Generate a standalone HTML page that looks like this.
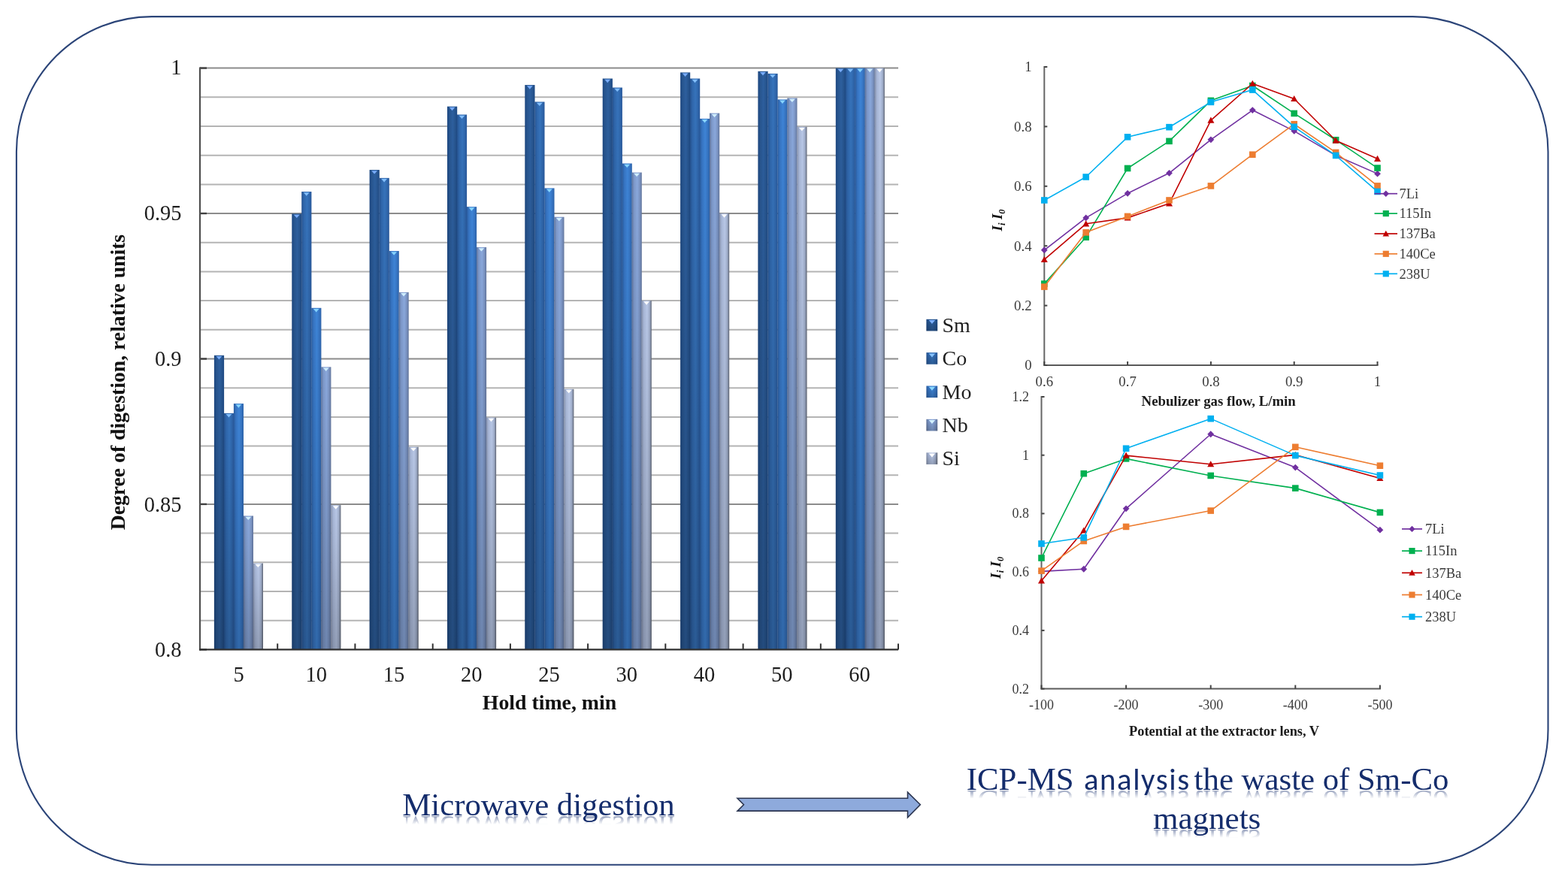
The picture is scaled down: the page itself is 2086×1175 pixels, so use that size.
<!DOCTYPE html>
<html><head><meta charset="utf-8"><title>Microwave digestion and ICP-MS analysis</title>
<style>
html,body{margin:0;padding:0;background:#fff;}
body{width:2086px;height:1175px;overflow:hidden;}
svg{display:block;}
</style></head><body>
<svg width="2086" height="1175" viewBox="0 0 2086 1175">
<defs>
<linearGradient id="gSm" x1="0" x2="1" y1="0" y2="0"><stop offset="0" stop-color="#1c4680"/><stop offset="0.22" stop-color="#27558f"/><stop offset="0.55" stop-color="#2d5f9e"/><stop offset="0.8" stop-color="#27558f"/><stop offset="1" stop-color="#1d4882"/></linearGradient><linearGradient id="gCo" x1="0" x2="1" y1="0" y2="0"><stop offset="0" stop-color="#25528f"/><stop offset="0.22" stop-color="#2f66ab"/><stop offset="0.55" stop-color="#3673bb"/><stop offset="0.8" stop-color="#2f66ab"/><stop offset="1" stop-color="#28579a"/></linearGradient><linearGradient id="gMo" x1="0" x2="1" y1="0" y2="0"><stop offset="0" stop-color="#2a5c9e"/><stop offset="0.22" stop-color="#3674c2"/><stop offset="0.55" stop-color="#3e84d6"/><stop offset="0.8" stop-color="#3674c2"/><stop offset="1" stop-color="#2c62a8"/></linearGradient><linearGradient id="gNb" x1="0" x2="1" y1="0" y2="0"><stop offset="0" stop-color="#5f739b"/><stop offset="0.22" stop-color="#7d98c9"/><stop offset="0.55" stop-color="#8aa8dc"/><stop offset="0.8" stop-color="#7a93c2"/><stop offset="1" stop-color="#62759c"/></linearGradient><linearGradient id="gSi" x1="0" x2="1" y1="0" y2="0"><stop offset="0" stop-color="#8490ab"/><stop offset="0.22" stop-color="#a7b6d6"/><stop offset="0.55" stop-color="#b8c7e6"/><stop offset="0.8" stop-color="#a0aecb"/><stop offset="1" stop-color="#5f6676"/></linearGradient><linearGradient id="vsh" x1="0" x2="0" y1="0" y2="1"><stop offset="0" stop-color="#000" stop-opacity="0"/><stop offset="0.25" stop-color="#000" stop-opacity="0.04"/><stop offset="1" stop-color="#000" stop-opacity="0.2"/></linearGradient><linearGradient id="rfl" x1="0" x2="0" y1="0" y2="1"><stop offset="0" stop-color="#fff" stop-opacity="0.55"/><stop offset="0.45" stop-color="#fff" stop-opacity="0.0"/></linearGradient><linearGradient id="rg1" gradientUnits="userSpaceOnUse" x1="0" y1="1085.0" x2="0" y2="1097.0"><stop offset="0" stop-color="#fff" stop-opacity="0.5"/><stop offset="1" stop-color="#fff" stop-opacity="0"/></linearGradient><mask id="rm1" maskUnits="userSpaceOnUse" x="0" y="1085.0" width="2086" height="14.0"><rect x="0" y="1085.0" width="2086" height="14.0" fill="url(#rg1)"/></mask><linearGradient id="rg2" gradientUnits="userSpaceOnUse" x1="0" y1="1050.6" x2="0" y2="1062.6"><stop offset="0" stop-color="#fff" stop-opacity="0.5"/><stop offset="1" stop-color="#fff" stop-opacity="0"/></linearGradient><mask id="rm2" maskUnits="userSpaceOnUse" x="0" y="1050.6" width="2086" height="14.0"><rect x="0" y="1050.6" width="2086" height="14.0" fill="url(#rg2)"/></mask><linearGradient id="rg3" gradientUnits="userSpaceOnUse" x1="0" y1="1102.8" x2="0" y2="1114.8"><stop offset="0" stop-color="#fff" stop-opacity="0.5"/><stop offset="1" stop-color="#fff" stop-opacity="0"/></linearGradient><mask id="rm3" maskUnits="userSpaceOnUse" x="0" y="1102.8" width="2086" height="14.0"><rect x="0" y="1102.8" width="2086" height="14.0" fill="url(#rg3)"/></mask>
<mask id="rm" maskUnits="userSpaceOnUse" x="0" y="0" width="2086" height="1175"><rect x="0" y="0" width="2086" height="1175" fill="#fff"/></mask>
</defs>
<rect x="0" y="0" width="2086" height="1175" fill="#fff"/>
<rect x="21.9" y="22.1" width="2037.6" height="1128.7" rx="180" ry="180" fill="none" stroke="#2b4478" stroke-width="2.1"/>
<line x1="266.0" y1="825.7" x2="1195.0" y2="825.7" stroke="#b4b4b4" stroke-width="2"/>
<line x1="266.0" y1="787.0" x2="1195.0" y2="787.0" stroke="#b4b4b4" stroke-width="2"/>
<line x1="266.0" y1="748.3" x2="1195.0" y2="748.3" stroke="#b4b4b4" stroke-width="2"/>
<line x1="266.0" y1="709.6" x2="1195.0" y2="709.6" stroke="#b4b4b4" stroke-width="2"/>
<line x1="266.0" y1="670.9" x2="1195.0" y2="670.9" stroke="#8c8c8c" stroke-width="2"/>
<line x1="266.0" y1="632.3" x2="1195.0" y2="632.3" stroke="#b4b4b4" stroke-width="2"/>
<line x1="266.0" y1="593.6" x2="1195.0" y2="593.6" stroke="#b4b4b4" stroke-width="2"/>
<line x1="266.0" y1="554.9" x2="1195.0" y2="554.9" stroke="#b4b4b4" stroke-width="2"/>
<line x1="266.0" y1="516.2" x2="1195.0" y2="516.2" stroke="#b4b4b4" stroke-width="2"/>
<line x1="266.0" y1="477.5" x2="1195.0" y2="477.5" stroke="#8c8c8c" stroke-width="2"/>
<line x1="266.0" y1="438.8" x2="1195.0" y2="438.8" stroke="#b4b4b4" stroke-width="2"/>
<line x1="266.0" y1="400.1" x2="1195.0" y2="400.1" stroke="#b4b4b4" stroke-width="2"/>
<line x1="266.0" y1="361.4" x2="1195.0" y2="361.4" stroke="#b4b4b4" stroke-width="2"/>
<line x1="266.0" y1="322.7" x2="1195.0" y2="322.7" stroke="#b4b4b4" stroke-width="2"/>
<line x1="266.0" y1="284.0" x2="1195.0" y2="284.0" stroke="#8c8c8c" stroke-width="2"/>
<line x1="266.0" y1="245.4" x2="1195.0" y2="245.4" stroke="#b4b4b4" stroke-width="2"/>
<line x1="266.0" y1="206.7" x2="1195.0" y2="206.7" stroke="#b4b4b4" stroke-width="2"/>
<line x1="266.0" y1="168.0" x2="1195.0" y2="168.0" stroke="#b4b4b4" stroke-width="2"/>
<line x1="266.0" y1="129.3" x2="1195.0" y2="129.3" stroke="#b4b4b4" stroke-width="2"/>
<line x1="266.0" y1="90.6" x2="1195.0" y2="90.6" stroke="#8c8c8c" stroke-width="2"/>
<line x1="266.0" y1="864.4" x2="275.0" y2="864.4" stroke="#404040" stroke-width="2.4"/>
<line x1="266.0" y1="670.9" x2="275.0" y2="670.9" stroke="#404040" stroke-width="2.4"/>
<line x1="266.0" y1="477.5" x2="275.0" y2="477.5" stroke="#404040" stroke-width="2.4"/>
<line x1="266.0" y1="284.0" x2="275.0" y2="284.0" stroke="#404040" stroke-width="2.4"/>
<line x1="266.0" y1="90.6" x2="275.0" y2="90.6" stroke="#404040" stroke-width="2.4"/>
<rect x="284.9" y="472.86" width="13.2" height="391.54" fill="url(#gSm)"/>
<rect x="284.9" y="472.86" width="13.2" height="391.54" fill="url(#vsh)"/>
<path d="M287.50,474.06 L295.30,474.06 Q292.60,477.06 291.40,478.46 Q290.20,477.06 287.50,474.06 Z" fill="#7cb0ff" opacity="0.95"/>
<rect x="297.9" y="549.85" width="13.2" height="314.55" fill="url(#gCo)"/>
<rect x="297.9" y="549.85" width="13.2" height="314.55" fill="url(#vsh)"/>
<path d="M300.50,551.05 L308.30,551.05 Q305.60,554.05 304.40,555.45 Q303.20,554.05 300.50,551.05 Z" fill="#86c2ff" opacity="0.95"/>
<rect x="310.9" y="537.08" width="13.1" height="327.32" fill="url(#gMo)"/>
<rect x="310.9" y="537.08" width="13.1" height="327.32" fill="url(#vsh)"/>
<path d="M313.45,538.28 L321.25,538.28 Q318.55,541.28 317.35,542.68 Q316.15,541.28 313.45,538.28 Z" fill="#8ad8ff" opacity="0.95"/>
<rect x="323.8" y="686.43" width="13.2" height="177.97" fill="url(#gNb)"/>
<rect x="323.8" y="686.43" width="13.2" height="177.97" fill="url(#vsh)"/>
<path d="M326.40,687.63 L334.20,687.63 Q331.50,690.63 330.30,692.03 Q329.10,690.63 326.40,687.63 Z" fill="#d4f2ff" opacity="0.95"/>
<rect x="336.8" y="749.49" width="13.2" height="114.91" fill="url(#gSi)"/>
<rect x="336.8" y="749.49" width="13.2" height="114.91" fill="url(#vsh)"/>
<path d="M339.40,750.69 L347.20,750.69 Q344.50,753.69 343.30,755.09 Q342.10,753.69 339.40,750.69 Z" fill="#ffffff" opacity="0.95"/>
<rect x="388.3" y="284.44" width="13.1" height="579.96" fill="url(#gSm)"/>
<rect x="388.3" y="284.44" width="13.1" height="579.96" fill="url(#vsh)"/>
<path d="M390.85,285.64 L398.65,285.64 Q395.95,288.64 394.75,290.04 Q393.55,288.64 390.85,285.64 Z" fill="#7cb0ff" opacity="0.95"/>
<rect x="401.2" y="255.03" width="13.2" height="609.37" fill="url(#gCo)"/>
<rect x="401.2" y="255.03" width="13.2" height="609.37" fill="url(#vsh)"/>
<path d="M403.80,256.23 L411.60,256.23 Q408.90,259.23 407.70,260.63 Q406.50,259.23 403.80,256.23 Z" fill="#86c2ff" opacity="0.95"/>
<rect x="414.2" y="409.79" width="13.2" height="454.61" fill="url(#gMo)"/>
<rect x="414.2" y="409.79" width="13.2" height="454.61" fill="url(#vsh)"/>
<path d="M416.80,410.99 L424.60,410.99 Q421.90,413.99 420.70,415.39 Q419.50,413.99 416.80,410.99 Z" fill="#8ad8ff" opacity="0.95"/>
<rect x="427.2" y="488.33" width="13.2" height="376.07" fill="url(#gNb)"/>
<rect x="427.2" y="488.33" width="13.2" height="376.07" fill="url(#vsh)"/>
<path d="M429.80,489.53 L437.60,489.53 Q434.90,492.53 433.70,493.93 Q432.50,492.53 429.80,489.53 Z" fill="#d4f2ff" opacity="0.95"/>
<rect x="440.2" y="672.11" width="13.2" height="192.29" fill="url(#gSi)"/>
<rect x="440.2" y="672.11" width="13.2" height="192.29" fill="url(#vsh)"/>
<path d="M442.80,673.31 L450.60,673.31 Q447.90,676.31 446.70,677.71 Q445.50,676.31 442.80,673.31 Z" fill="#ffffff" opacity="0.95"/>
<rect x="491.6" y="226.02" width="13.2" height="638.38" fill="url(#gSm)"/>
<rect x="491.6" y="226.02" width="13.2" height="638.38" fill="url(#vsh)"/>
<path d="M494.20,227.22 L502.00,227.22 Q499.30,230.22 498.10,231.62 Q496.90,230.22 494.20,227.22 Z" fill="#7cb0ff" opacity="0.95"/>
<rect x="504.6" y="236.85" width="13.2" height="627.55" fill="url(#gCo)"/>
<rect x="504.6" y="236.85" width="13.2" height="627.55" fill="url(#vsh)"/>
<path d="M507.20,238.05 L515.00,238.05 Q512.30,241.05 511.10,242.45 Q509.90,241.05 507.20,238.05 Z" fill="#86c2ff" opacity="0.95"/>
<rect x="517.6" y="333.96" width="13.2" height="530.44" fill="url(#gMo)"/>
<rect x="517.6" y="333.96" width="13.2" height="530.44" fill="url(#vsh)"/>
<path d="M520.20,335.16 L528.00,335.16 Q525.30,338.16 524.10,339.56 Q522.90,338.16 520.20,335.16 Z" fill="#8ad8ff" opacity="0.95"/>
<rect x="530.6" y="388.90" width="13.1" height="475.50" fill="url(#gNb)"/>
<rect x="530.6" y="388.90" width="13.1" height="475.50" fill="url(#vsh)"/>
<path d="M533.15,390.10 L540.95,390.10 Q538.25,393.10 537.05,394.50 Q535.85,393.10 533.15,390.10 Z" fill="#d4f2ff" opacity="0.95"/>
<rect x="543.5" y="594.73" width="13.2" height="269.67" fill="url(#gSi)"/>
<rect x="543.5" y="594.73" width="13.2" height="269.67" fill="url(#vsh)"/>
<path d="M546.10,595.93 L553.90,595.93 Q551.20,598.93 550.00,600.33 Q548.80,598.93 546.10,595.93 Z" fill="#ffffff" opacity="0.95"/>
<rect x="595.0" y="141.67" width="13.2" height="722.73" fill="url(#gSm)"/>
<rect x="595.0" y="141.67" width="13.2" height="722.73" fill="url(#vsh)"/>
<path d="M597.60,142.87 L605.40,142.87 Q602.70,145.87 601.50,147.27 Q600.30,145.87 597.60,142.87 Z" fill="#7cb0ff" opacity="0.95"/>
<rect x="608.0" y="152.50" width="13.1" height="711.90" fill="url(#gCo)"/>
<rect x="608.0" y="152.50" width="13.1" height="711.90" fill="url(#vsh)"/>
<path d="M610.55,153.70 L618.35,153.70 Q615.65,156.70 614.45,158.10 Q613.25,156.70 610.55,153.70 Z" fill="#86c2ff" opacity="0.95"/>
<rect x="620.9" y="275.15" width="13.2" height="589.25" fill="url(#gMo)"/>
<rect x="620.9" y="275.15" width="13.2" height="589.25" fill="url(#vsh)"/>
<path d="M623.50,276.35 L631.30,276.35 Q628.60,279.35 627.40,280.75 Q626.20,279.35 623.50,276.35 Z" fill="#8ad8ff" opacity="0.95"/>
<rect x="633.9" y="328.93" width="13.2" height="535.47" fill="url(#gNb)"/>
<rect x="633.9" y="328.93" width="13.2" height="535.47" fill="url(#vsh)"/>
<path d="M636.50,330.13 L644.30,330.13 Q641.60,333.13 640.40,334.53 Q639.20,333.13 636.50,330.13 Z" fill="#d4f2ff" opacity="0.95"/>
<rect x="646.9" y="555.65" width="13.2" height="308.75" fill="url(#gSi)"/>
<rect x="646.9" y="555.65" width="13.2" height="308.75" fill="url(#vsh)"/>
<path d="M649.50,556.85 L657.30,556.85 Q654.60,559.85 653.40,561.25 Q652.20,559.85 649.50,556.85 Z" fill="#ffffff" opacity="0.95"/>
<rect x="698.3" y="113.04" width="13.2" height="751.36" fill="url(#gSm)"/>
<rect x="698.3" y="113.04" width="13.2" height="751.36" fill="url(#vsh)"/>
<path d="M700.90,114.24 L708.70,114.24 Q706.00,117.24 704.80,118.64 Q703.60,117.24 700.90,114.24 Z" fill="#7cb0ff" opacity="0.95"/>
<rect x="711.3" y="135.48" width="13.2" height="728.92" fill="url(#gCo)"/>
<rect x="711.3" y="135.48" width="13.2" height="728.92" fill="url(#vsh)"/>
<path d="M713.90,136.68 L721.70,136.68 Q719.00,139.68 717.80,141.08 Q716.60,139.68 713.90,136.68 Z" fill="#86c2ff" opacity="0.95"/>
<rect x="724.3" y="250.39" width="13.2" height="614.01" fill="url(#gMo)"/>
<rect x="724.3" y="250.39" width="13.2" height="614.01" fill="url(#vsh)"/>
<path d="M726.90,251.59 L734.70,251.59 Q732.00,254.59 730.80,255.99 Q729.60,254.59 726.90,251.59 Z" fill="#8ad8ff" opacity="0.95"/>
<rect x="737.3" y="288.69" width="13.2" height="575.71" fill="url(#gNb)"/>
<rect x="737.3" y="288.69" width="13.2" height="575.71" fill="url(#vsh)"/>
<path d="M739.90,289.89 L747.70,289.89 Q745.00,292.89 743.80,294.29 Q742.60,292.89 739.90,289.89 Z" fill="#d4f2ff" opacity="0.95"/>
<rect x="750.3" y="517.74" width="13.1" height="346.66" fill="url(#gSi)"/>
<rect x="750.3" y="517.74" width="13.1" height="346.66" fill="url(#vsh)"/>
<path d="M752.85,518.94 L760.65,518.94 Q757.95,521.94 756.75,523.34 Q755.55,521.94 752.85,518.94 Z" fill="#ffffff" opacity="0.95"/>
<rect x="801.7" y="104.53" width="13.2" height="759.87" fill="url(#gSm)"/>
<rect x="801.7" y="104.53" width="13.2" height="759.87" fill="url(#vsh)"/>
<path d="M804.30,105.73 L812.10,105.73 Q809.40,108.73 808.20,110.13 Q807.00,108.73 804.30,105.73 Z" fill="#7cb0ff" opacity="0.95"/>
<rect x="814.7" y="116.52" width="13.2" height="747.88" fill="url(#gCo)"/>
<rect x="814.7" y="116.52" width="13.2" height="747.88" fill="url(#vsh)"/>
<path d="M817.30,117.72 L825.10,117.72 Q822.40,120.72 821.20,122.12 Q820.00,120.72 817.30,117.72 Z" fill="#86c2ff" opacity="0.95"/>
<rect x="827.7" y="217.50" width="13.1" height="646.90" fill="url(#gMo)"/>
<rect x="827.7" y="217.50" width="13.1" height="646.90" fill="url(#vsh)"/>
<path d="M830.25,218.70 L838.05,218.70 Q835.35,221.70 834.15,223.10 Q832.95,221.70 830.25,218.70 Z" fill="#8ad8ff" opacity="0.95"/>
<rect x="840.6" y="229.50" width="13.2" height="634.90" fill="url(#gNb)"/>
<rect x="840.6" y="229.50" width="13.2" height="634.90" fill="url(#vsh)"/>
<path d="M843.20,230.70 L851.00,230.70 Q848.30,233.70 847.10,235.10 Q845.90,233.70 843.20,230.70 Z" fill="#d4f2ff" opacity="0.95"/>
<rect x="853.6" y="400.12" width="13.2" height="464.28" fill="url(#gSi)"/>
<rect x="853.6" y="400.12" width="13.2" height="464.28" fill="url(#vsh)"/>
<path d="M856.20,401.32 L864.00,401.32 Q861.30,404.32 860.10,405.72 Q858.90,404.32 856.20,401.32 Z" fill="#ffffff" opacity="0.95"/>
<rect x="905.1" y="96.40" width="13.1" height="768.00" fill="url(#gSm)"/>
<rect x="905.1" y="96.40" width="13.1" height="768.00" fill="url(#vsh)"/>
<path d="M907.65,97.60 L915.45,97.60 Q912.75,100.60 911.55,102.00 Q910.35,100.60 907.65,97.60 Z" fill="#7cb0ff" opacity="0.95"/>
<rect x="918.0" y="104.53" width="13.2" height="759.87" fill="url(#gCo)"/>
<rect x="918.0" y="104.53" width="13.2" height="759.87" fill="url(#vsh)"/>
<path d="M920.60,105.73 L928.40,105.73 Q925.70,108.73 924.50,110.13 Q923.30,108.73 920.60,105.73 Z" fill="#86c2ff" opacity="0.95"/>
<rect x="931.0" y="157.92" width="13.2" height="706.48" fill="url(#gMo)"/>
<rect x="931.0" y="157.92" width="13.2" height="706.48" fill="url(#vsh)"/>
<path d="M933.60,159.12 L941.40,159.12 Q938.70,162.12 937.50,163.52 Q936.30,162.12 933.60,159.12 Z" fill="#8ad8ff" opacity="0.95"/>
<rect x="944.0" y="150.57" width="13.2" height="713.83" fill="url(#gNb)"/>
<rect x="944.0" y="150.57" width="13.2" height="713.83" fill="url(#vsh)"/>
<path d="M946.60,151.77 L954.40,151.77 Q951.70,154.77 950.50,156.17 Q949.30,154.77 946.60,151.77 Z" fill="#d4f2ff" opacity="0.95"/>
<rect x="957.0" y="284.05" width="13.2" height="580.35" fill="url(#gSi)"/>
<rect x="957.0" y="284.05" width="13.2" height="580.35" fill="url(#vsh)"/>
<path d="M959.60,285.25 L967.40,285.25 Q964.70,288.25 963.50,289.65 Q962.30,288.25 959.60,285.25 Z" fill="#ffffff" opacity="0.95"/>
<rect x="1008.4" y="94.86" width="13.2" height="769.54" fill="url(#gSm)"/>
<rect x="1008.4" y="94.86" width="13.2" height="769.54" fill="url(#vsh)"/>
<path d="M1011.00,96.06 L1018.80,96.06 Q1016.10,99.06 1014.90,100.46 Q1013.70,99.06 1011.00,96.06 Z" fill="#7cb0ff" opacity="0.95"/>
<rect x="1021.4" y="97.95" width="13.2" height="766.45" fill="url(#gCo)"/>
<rect x="1021.4" y="97.95" width="13.2" height="766.45" fill="url(#vsh)"/>
<path d="M1024.00,99.15 L1031.80,99.15 Q1029.10,102.15 1027.90,103.55 Q1026.70,102.15 1024.00,99.15 Z" fill="#86c2ff" opacity="0.95"/>
<rect x="1034.4" y="132.39" width="13.2" height="732.01" fill="url(#gMo)"/>
<rect x="1034.4" y="132.39" width="13.2" height="732.01" fill="url(#vsh)"/>
<path d="M1037.00,133.59 L1044.80,133.59 Q1042.10,136.59 1040.90,137.99 Q1039.70,136.59 1037.00,133.59 Z" fill="#8ad8ff" opacity="0.95"/>
<rect x="1047.4" y="130.45" width="13.1" height="733.95" fill="url(#gNb)"/>
<rect x="1047.4" y="130.45" width="13.1" height="733.95" fill="url(#vsh)"/>
<path d="M1049.95,131.65 L1057.75,131.65 Q1055.05,134.65 1053.85,136.05 Q1052.65,134.65 1049.95,131.65 Z" fill="#d4f2ff" opacity="0.95"/>
<rect x="1060.3" y="168.75" width="13.2" height="695.65" fill="url(#gSi)"/>
<rect x="1060.3" y="168.75" width="13.2" height="695.65" fill="url(#vsh)"/>
<path d="M1062.90,169.95 L1070.70,169.95 Q1068.00,172.95 1066.80,174.35 Q1065.60,172.95 1062.90,169.95 Z" fill="#ffffff" opacity="0.95"/>
<rect x="1111.8" y="90.60" width="13.2" height="773.80" fill="url(#gSm)"/>
<rect x="1111.8" y="90.60" width="13.2" height="773.80" fill="url(#vsh)"/>
<path d="M1114.40,91.80 L1122.20,91.80 Q1119.50,94.80 1118.30,96.20 Q1117.10,94.80 1114.40,91.80 Z" fill="#7cb0ff" opacity="0.95"/>
<rect x="1124.8" y="90.60" width="13.1" height="773.80" fill="url(#gCo)"/>
<rect x="1124.8" y="90.60" width="13.1" height="773.80" fill="url(#vsh)"/>
<path d="M1127.35,91.80 L1135.15,91.80 Q1132.45,94.80 1131.25,96.20 Q1130.05,94.80 1127.35,91.80 Z" fill="#86c2ff" opacity="0.95"/>
<rect x="1137.7" y="90.60" width="13.2" height="773.80" fill="url(#gMo)"/>
<rect x="1137.7" y="90.60" width="13.2" height="773.80" fill="url(#vsh)"/>
<path d="M1140.30,91.80 L1148.10,91.80 Q1145.40,94.80 1144.20,96.20 Q1143.00,94.80 1140.30,91.80 Z" fill="#8ad8ff" opacity="0.95"/>
<rect x="1150.7" y="90.60" width="13.2" height="773.80" fill="url(#gNb)"/>
<rect x="1150.7" y="90.60" width="13.2" height="773.80" fill="url(#vsh)"/>
<path d="M1153.30,91.80 L1161.10,91.80 Q1158.40,94.80 1157.20,96.20 Q1156.00,94.80 1153.30,91.80 Z" fill="#d4f2ff" opacity="0.95"/>
<rect x="1163.7" y="90.60" width="13.2" height="773.80" fill="url(#gSi)"/>
<rect x="1163.7" y="90.60" width="13.2" height="773.80" fill="url(#vsh)"/>
<path d="M1166.30,91.80 L1174.10,91.80 Q1171.40,94.80 1170.20,96.20 Q1169.00,94.80 1166.30,91.80 Z" fill="#ffffff" opacity="0.95"/>
<line x1="266.0" y1="89.6" x2="266.0" y2="865.4" stroke="#505050" stroke-width="2.2"/>
<line x1="265.0" y1="864.4" x2="1195.0" y2="864.4" stroke="#303030" stroke-width="2.4"/>
<line x1="369.2" y1="856.4" x2="369.2" y2="864.4" stroke="#303030" stroke-width="2"/>
<line x1="472.4" y1="856.4" x2="472.4" y2="864.4" stroke="#303030" stroke-width="2"/>
<line x1="575.7" y1="856.4" x2="575.7" y2="864.4" stroke="#303030" stroke-width="2"/>
<line x1="678.9" y1="856.4" x2="678.9" y2="864.4" stroke="#303030" stroke-width="2"/>
<line x1="782.1" y1="856.4" x2="782.1" y2="864.4" stroke="#303030" stroke-width="2"/>
<line x1="885.3" y1="856.4" x2="885.3" y2="864.4" stroke="#303030" stroke-width="2"/>
<line x1="988.6" y1="856.4" x2="988.6" y2="864.4" stroke="#303030" stroke-width="2"/>
<line x1="1091.8" y1="856.4" x2="1091.8" y2="864.4" stroke="#303030" stroke-width="2"/>
<line x1="1195.0" y1="856.4" x2="1195.0" y2="864.4" stroke="#303030" stroke-width="2"/>
<text x="241.5" y="874.2" text-anchor="end" font-family="'Liberation Serif', 'Times New Roman', serif" font-size="28.5" fill="#1e1e1e">0.8</text>
<text x="241.5" y="680.8" text-anchor="end" font-family="'Liberation Serif', 'Times New Roman', serif" font-size="28.5" fill="#1e1e1e">0.85</text>
<text x="241.5" y="487.0" text-anchor="end" font-family="'Liberation Serif', 'Times New Roman', serif" font-size="28.5" fill="#1e1e1e">0.9</text>
<text x="241.5" y="292.5" text-anchor="end" font-family="'Liberation Serif', 'Times New Roman', serif" font-size="28.5" fill="#1e1e1e">0.95</text>
<text x="241.5" y="98.6" text-anchor="end" font-family="'Liberation Serif', 'Times New Roman', serif" font-size="28.5" fill="#1e1e1e">1</text>
<text x="317.6" y="906.8" text-anchor="middle" font-family="'Liberation Serif', 'Times New Roman', serif" font-size="28.5" fill="#1e1e1e">5</text>
<text x="420.8" y="906.8" text-anchor="middle" font-family="'Liberation Serif', 'Times New Roman', serif" font-size="28.5" fill="#1e1e1e">10</text>
<text x="524.1" y="906.8" text-anchor="middle" font-family="'Liberation Serif', 'Times New Roman', serif" font-size="28.5" fill="#1e1e1e">15</text>
<text x="627.3" y="906.8" text-anchor="middle" font-family="'Liberation Serif', 'Times New Roman', serif" font-size="28.5" fill="#1e1e1e">20</text>
<text x="730.5" y="906.8" text-anchor="middle" font-family="'Liberation Serif', 'Times New Roman', serif" font-size="28.5" fill="#1e1e1e">25</text>
<text x="833.7" y="906.8" text-anchor="middle" font-family="'Liberation Serif', 'Times New Roman', serif" font-size="28.5" fill="#1e1e1e">30</text>
<text x="936.9" y="906.8" text-anchor="middle" font-family="'Liberation Serif', 'Times New Roman', serif" font-size="28.5" fill="#1e1e1e">40</text>
<text x="1040.2" y="906.8" text-anchor="middle" font-family="'Liberation Serif', 'Times New Roman', serif" font-size="28.5" fill="#1e1e1e">50</text>
<text x="1143.4" y="906.8" text-anchor="middle" font-family="'Liberation Serif', 'Times New Roman', serif" font-size="28.5" fill="#1e1e1e">60</text>
<text x="731" y="944.4" text-anchor="middle" font-family="'Liberation Serif', 'Times New Roman', serif" font-size="27.8" font-weight="bold" fill="#111">Hold time, min</text>
<text transform="translate(166.3,508.6) rotate(-90)" text-anchor="middle" font-family="'Liberation Serif', 'Times New Roman', serif" font-size="27.7" font-weight="bold" fill="#111">Degree of digestion, relative units</text>
<rect x="1232.4" y="424.8" width="14.8" height="15.6" fill="url(#gSm)"/>
<rect x="1232.4" y="424.8" width="14.8" height="15.6" fill="url(#vsh)"/>
<path d="M1235.6,426.1 L1244.2,426.1 Q1241.2,429.3 1239.9,431.1 Q1238.6,429.3 1235.6,426.1 Z" fill="#7cb0ff"/>
<text x="1253.5" y="441.9" font-family="'Liberation Serif', 'Times New Roman', serif" font-size="28" fill="#1e1e1e">Sm</text>
<rect x="1232.4" y="469.1" width="14.8" height="15.6" fill="url(#gCo)"/>
<rect x="1232.4" y="469.1" width="14.8" height="15.6" fill="url(#vsh)"/>
<path d="M1235.6,470.4 L1244.2,470.4 Q1241.2,473.6 1239.9,475.4 Q1238.6,473.6 1235.6,470.4 Z" fill="#86c2ff"/>
<text x="1253.5" y="486.2" font-family="'Liberation Serif', 'Times New Roman', serif" font-size="28" fill="#1e1e1e">Co</text>
<rect x="1232.4" y="513.5" width="14.8" height="15.6" fill="url(#gMo)"/>
<rect x="1232.4" y="513.5" width="14.8" height="15.6" fill="url(#vsh)"/>
<path d="M1235.6,514.8 L1244.2,514.8 Q1241.2,518.0 1239.9,519.8 Q1238.6,518.0 1235.6,514.8 Z" fill="#8ad8ff"/>
<text x="1253.5" y="530.6" font-family="'Liberation Serif', 'Times New Roman', serif" font-size="28" fill="#1e1e1e">Mo</text>
<rect x="1232.4" y="557.8" width="14.8" height="15.6" fill="url(#gNb)"/>
<rect x="1232.4" y="557.8" width="14.8" height="15.6" fill="url(#vsh)"/>
<path d="M1235.6,559.1 L1244.2,559.1 Q1241.2,562.3 1239.9,564.1 Q1238.6,562.3 1235.6,559.1 Z" fill="#d4f2ff"/>
<text x="1253.5" y="574.9" font-family="'Liberation Serif', 'Times New Roman', serif" font-size="28" fill="#1e1e1e">Nb</text>
<rect x="1232.4" y="602.3" width="14.8" height="15.6" fill="url(#gSi)"/>
<rect x="1232.4" y="602.3" width="14.8" height="15.6" fill="url(#vsh)"/>
<path d="M1235.6,603.6 L1244.2,603.6 Q1241.2,606.8 1239.9,608.6 Q1238.6,606.8 1235.6,603.6 Z" fill="#ffffff"/>
<text x="1253.5" y="619.4" font-family="'Liberation Serif', 'Times New Roman', serif" font-size="28" fill="#1e1e1e">Si</text>
<line x1="1389.3" y1="88.0" x2="1389.3" y2="487.0" stroke="#666" stroke-width="2"/>
<line x1="1388.3" y1="486.0" x2="1833.5" y2="486.0" stroke="#5a5a5a" stroke-width="2"/>
<line x1="1389.3" y1="486.0" x2="1393.3" y2="486.0" stroke="#444" stroke-width="2"/>
<line x1="1389.3" y1="406.6" x2="1393.3" y2="406.6" stroke="#444" stroke-width="2"/>
<line x1="1389.3" y1="327.2" x2="1393.3" y2="327.2" stroke="#444" stroke-width="2"/>
<line x1="1389.3" y1="247.8" x2="1393.3" y2="247.8" stroke="#444" stroke-width="2"/>
<line x1="1389.3" y1="168.4" x2="1393.3" y2="168.4" stroke="#444" stroke-width="2"/>
<line x1="1389.3" y1="89.0" x2="1393.3" y2="89.0" stroke="#444" stroke-width="2"/>
<line x1="1389.3" y1="481.0" x2="1389.3" y2="486.0" stroke="#444" stroke-width="2"/>
<line x1="1500.1" y1="481.0" x2="1500.1" y2="486.0" stroke="#444" stroke-width="2"/>
<line x1="1610.9" y1="481.0" x2="1610.9" y2="486.0" stroke="#444" stroke-width="2"/>
<line x1="1721.7" y1="481.0" x2="1721.7" y2="486.0" stroke="#444" stroke-width="2"/>
<line x1="1832.5" y1="481.0" x2="1832.5" y2="486.0" stroke="#444" stroke-width="2"/>
<polyline points="1389.30,332.76 1444.70,289.88 1500.10,257.33 1555.50,230.33 1610.90,185.87 1666.30,146.56 1721.70,174.35 1777.10,206.91 1832.50,231.13" fill="none" stroke="#7030a0" stroke-width="1.6" stroke-linejoin="round"/>
<path d="M1389.30,328.36 L1393.70,332.76 L1389.30,337.16 L1384.90,332.76 Z" fill="#7030a0"/>
<path d="M1444.70,285.48 L1449.10,289.88 L1444.70,294.28 L1440.30,289.88 Z" fill="#7030a0"/>
<path d="M1500.10,252.93 L1504.50,257.33 L1500.10,261.73 L1495.70,257.33 Z" fill="#7030a0"/>
<path d="M1555.50,225.93 L1559.90,230.33 L1555.50,234.73 L1551.10,230.33 Z" fill="#7030a0"/>
<path d="M1610.90,181.47 L1615.30,185.87 L1610.90,190.27 L1606.50,185.87 Z" fill="#7030a0"/>
<path d="M1666.30,142.16 L1670.70,146.56 L1666.30,150.97 L1661.90,146.56 Z" fill="#7030a0"/>
<path d="M1721.70,169.95 L1726.10,174.35 L1721.70,178.75 L1717.30,174.35 Z" fill="#7030a0"/>
<path d="M1777.10,202.51 L1781.50,206.91 L1777.10,211.31 L1772.70,206.91 Z" fill="#7030a0"/>
<path d="M1832.50,226.73 L1836.90,231.13 L1832.50,235.53 L1828.10,231.13 Z" fill="#7030a0"/>
<polyline points="1389.30,377.62 1444.70,315.69 1500.10,223.98 1555.50,187.85 1610.90,133.86 1666.30,114.01 1721.70,150.93 1777.10,186.26 1832.50,223.58" fill="none" stroke="#00b050" stroke-width="1.6" stroke-linejoin="round"/>
<rect x="1385.00" y="373.32" width="8.60" height="8.60" fill="#00b050"/>
<rect x="1440.40" y="311.39" width="8.60" height="8.60" fill="#00b050"/>
<rect x="1495.80" y="219.68" width="8.60" height="8.60" fill="#00b050"/>
<rect x="1551.20" y="183.55" width="8.60" height="8.60" fill="#00b050"/>
<rect x="1606.60" y="129.56" width="8.60" height="8.60" fill="#00b050"/>
<rect x="1662.00" y="109.71" width="8.60" height="8.60" fill="#00b050"/>
<rect x="1717.40" y="146.63" width="8.60" height="8.60" fill="#00b050"/>
<rect x="1772.80" y="181.96" width="8.60" height="8.60" fill="#00b050"/>
<rect x="1828.20" y="219.28" width="8.60" height="8.60" fill="#00b050"/>
<polyline points="1389.30,345.46 1444.70,297.82 1500.10,289.88 1555.50,270.83 1610.90,160.06 1666.30,111.23 1721.70,131.48 1777.10,187.06 1832.50,211.28" fill="none" stroke="#c00000" stroke-width="1.6" stroke-linejoin="round"/>
<path d="M1389.30,340.96 L1393.80,349.06 L1384.80,349.06 Z" fill="#c00000"/>
<path d="M1444.70,293.32 L1449.20,301.42 L1440.20,301.42 Z" fill="#c00000"/>
<path d="M1500.10,285.38 L1504.60,293.48 L1495.60,293.48 Z" fill="#c00000"/>
<path d="M1555.50,266.33 L1560.00,274.43 L1551.00,274.43 Z" fill="#c00000"/>
<path d="M1610.90,155.56 L1615.40,163.66 L1606.40,163.66 Z" fill="#c00000"/>
<path d="M1666.30,106.73 L1670.80,114.83 L1661.80,114.83 Z" fill="#c00000"/>
<path d="M1721.70,126.98 L1726.20,135.08 L1717.20,135.08 Z" fill="#c00000"/>
<path d="M1777.10,182.56 L1781.60,190.66 L1772.60,190.66 Z" fill="#c00000"/>
<path d="M1832.50,206.78 L1837.00,214.88 L1828.00,214.88 Z" fill="#c00000"/>
<polyline points="1389.30,381.59 1444.70,309.34 1500.10,287.90 1555.50,266.46 1610.90,247.40 1666.30,205.72 1721.70,165.22 1777.10,202.94 1832.50,247.40" fill="none" stroke="#ed7d31" stroke-width="1.6" stroke-linejoin="round"/>
<rect x="1385.00" y="377.29" width="8.60" height="8.60" fill="#ed7d31"/>
<rect x="1440.40" y="305.04" width="8.60" height="8.60" fill="#ed7d31"/>
<rect x="1495.80" y="283.60" width="8.60" height="8.60" fill="#ed7d31"/>
<rect x="1551.20" y="262.16" width="8.60" height="8.60" fill="#ed7d31"/>
<rect x="1606.60" y="243.10" width="8.60" height="8.60" fill="#ed7d31"/>
<rect x="1662.00" y="201.42" width="8.60" height="8.60" fill="#ed7d31"/>
<rect x="1717.40" y="160.92" width="8.60" height="8.60" fill="#ed7d31"/>
<rect x="1772.80" y="198.64" width="8.60" height="8.60" fill="#ed7d31"/>
<rect x="1828.20" y="243.10" width="8.60" height="8.60" fill="#ed7d31"/>
<polyline points="1389.30,266.46 1444.70,235.49 1500.10,182.30 1555.50,169.19 1610.90,135.85 1666.30,119.57 1721.70,168.80 1777.10,206.91 1832.50,254.95" fill="none" stroke="#00b0f0" stroke-width="1.6" stroke-linejoin="round"/>
<rect x="1385.00" y="262.16" width="8.60" height="8.60" fill="#00b0f0"/>
<rect x="1440.40" y="231.19" width="8.60" height="8.60" fill="#00b0f0"/>
<rect x="1495.80" y="178.00" width="8.60" height="8.60" fill="#00b0f0"/>
<rect x="1551.20" y="164.89" width="8.60" height="8.60" fill="#00b0f0"/>
<rect x="1606.60" y="131.55" width="8.60" height="8.60" fill="#00b0f0"/>
<rect x="1662.00" y="115.27" width="8.60" height="8.60" fill="#00b0f0"/>
<rect x="1717.40" y="164.50" width="8.60" height="8.60" fill="#00b0f0"/>
<rect x="1772.80" y="202.61" width="8.60" height="8.60" fill="#00b0f0"/>
<rect x="1828.20" y="250.65" width="8.60" height="8.60" fill="#00b0f0"/>
<line x1="1828.5" y1="257.7" x2="1859" y2="257.7" stroke="#7030a0" stroke-width="1.7"/>
<path d="M1843.75,253.52 L1847.93,257.70 L1843.75,261.88 L1839.57,257.70 Z" fill="#7030a0"/>
<text x="1861.5" y="264.0" font-family="'Liberation Serif', 'Times New Roman', serif" font-size="18.5" fill="#3a3a3a">7Li</text>
<line x1="1828.5" y1="284.1" x2="1859" y2="284.1" stroke="#00b050" stroke-width="1.7"/>
<rect x="1839.66" y="280.02" width="8.17" height="8.17" fill="#00b050"/>
<text x="1861.5" y="290.4" font-family="'Liberation Serif', 'Times New Roman', serif" font-size="18.5" fill="#3a3a3a">115In</text>
<line x1="1828.5" y1="311.0" x2="1859" y2="311.0" stroke="#c00000" stroke-width="1.7"/>
<path d="M1843.75,306.73 L1848.03,314.42 L1839.47,314.42 Z" fill="#c00000"/>
<text x="1861.5" y="317.3" font-family="'Liberation Serif', 'Times New Roman', serif" font-size="18.5" fill="#3a3a3a">137Ba</text>
<line x1="1828.5" y1="337.8" x2="1859" y2="337.8" stroke="#ed7d31" stroke-width="1.7"/>
<rect x="1839.66" y="333.72" width="8.17" height="8.17" fill="#ed7d31"/>
<text x="1861.5" y="344.1" font-family="'Liberation Serif', 'Times New Roman', serif" font-size="18.5" fill="#3a3a3a">140Ce</text>
<line x1="1828.5" y1="364.3" x2="1859" y2="364.3" stroke="#00b0f0" stroke-width="1.7"/>
<rect x="1839.66" y="360.22" width="8.17" height="8.17" fill="#00b0f0"/>
<text x="1861.5" y="370.6" font-family="'Liberation Serif', 'Times New Roman', serif" font-size="18.5" fill="#3a3a3a">238U</text>
<text x="1372.6" y="492.4" text-anchor="end" font-family="'Liberation Serif', 'Times New Roman', serif" font-size="18.8" fill="#3a3a3a">0</text>
<text x="1372.6" y="413.0" text-anchor="end" font-family="'Liberation Serif', 'Times New Roman', serif" font-size="18.8" fill="#3a3a3a">0.2</text>
<text x="1372.6" y="333.6" text-anchor="end" font-family="'Liberation Serif', 'Times New Roman', serif" font-size="18.8" fill="#3a3a3a">0.4</text>
<text x="1372.6" y="254.2" text-anchor="end" font-family="'Liberation Serif', 'Times New Roman', serif" font-size="18.8" fill="#3a3a3a">0.6</text>
<text x="1372.6" y="174.8" text-anchor="end" font-family="'Liberation Serif', 'Times New Roman', serif" font-size="18.8" fill="#3a3a3a">0.8</text>
<text x="1372.6" y="95.4" text-anchor="end" font-family="'Liberation Serif', 'Times New Roman', serif" font-size="18.8" fill="#3a3a3a">1</text>
<text x="1389.3" y="514.2" text-anchor="middle" font-family="'Liberation Serif', 'Times New Roman', serif" font-size="18.8" fill="#3a3a3a">0.6</text>
<text x="1500.1" y="514.2" text-anchor="middle" font-family="'Liberation Serif', 'Times New Roman', serif" font-size="18.8" fill="#3a3a3a">0.7</text>
<text x="1610.9" y="514.2" text-anchor="middle" font-family="'Liberation Serif', 'Times New Roman', serif" font-size="18.8" fill="#3a3a3a">0.8</text>
<text x="1721.7" y="514.2" text-anchor="middle" font-family="'Liberation Serif', 'Times New Roman', serif" font-size="18.8" fill="#3a3a3a">0.9</text>
<text x="1832.5" y="514.2" text-anchor="middle" font-family="'Liberation Serif', 'Times New Roman', serif" font-size="18.8" fill="#3a3a3a">1</text>
<text x="1621.2" y="540.2" text-anchor="middle" font-family="'Liberation Serif', 'Times New Roman', serif" font-size="18.8" font-weight="bold" fill="#1a1a1a">Nebulizer gas flow, L/min</text>
<g transform="translate(1333.0,307.0) rotate(-90)"><text x="-0.6" y="0" font-size="19" font-family="'Liberation Serif', 'Times New Roman', serif" font-weight="bold" font-style="italic" fill="#111">I</text><text x="7.0" y="3.8" font-size="12.5" font-family="'Liberation Serif', 'Times New Roman', serif" font-weight="bold" font-style="italic" fill="#111">i</text><text x="14.9" y="0" font-size="19" font-family="'Liberation Serif', 'Times New Roman', serif" font-weight="bold" font-style="italic" fill="#111">I</text><text x="22.2" y="3.8" font-size="12.5" font-family="'Liberation Serif', 'Times New Roman', serif" font-weight="bold" font-style="italic" fill="#111">0</text></g>
<line x1="1385.5" y1="527.0" x2="1385.5" y2="917.6" stroke="#666" stroke-width="2"/>
<line x1="1384.5" y1="916.6" x2="1836.9" y2="916.6" stroke="#5a5a5a" stroke-width="2"/>
<line x1="1385.5" y1="916.6" x2="1389.5" y2="916.6" stroke="#444" stroke-width="2"/>
<line x1="1385.5" y1="838.9" x2="1389.5" y2="838.9" stroke="#444" stroke-width="2"/>
<line x1="1385.5" y1="761.2" x2="1389.5" y2="761.2" stroke="#444" stroke-width="2"/>
<line x1="1385.5" y1="683.4" x2="1389.5" y2="683.4" stroke="#444" stroke-width="2"/>
<line x1="1385.5" y1="605.7" x2="1389.5" y2="605.7" stroke="#444" stroke-width="2"/>
<line x1="1385.5" y1="528.0" x2="1389.5" y2="528.0" stroke="#444" stroke-width="2"/>
<line x1="1385.5" y1="911.6" x2="1385.5" y2="916.6" stroke="#444" stroke-width="2"/>
<line x1="1498.1" y1="911.6" x2="1498.1" y2="916.6" stroke="#444" stroke-width="2"/>
<line x1="1610.7" y1="911.6" x2="1610.7" y2="916.6" stroke="#444" stroke-width="2"/>
<line x1="1723.3" y1="911.6" x2="1723.3" y2="916.6" stroke="#444" stroke-width="2"/>
<line x1="1835.9" y1="911.6" x2="1835.9" y2="916.6" stroke="#444" stroke-width="2"/>
<polyline points="1385.50,760.38 1441.80,757.27 1498.10,676.83 1610.70,577.74 1723.30,622.04 1835.90,705.20" fill="none" stroke="#7030a0" stroke-width="1.6" stroke-linejoin="round"/>
<path d="M1385.50,755.98 L1389.90,760.38 L1385.50,764.78 L1381.10,760.38 Z" fill="#7030a0"/>
<path d="M1441.80,752.87 L1446.20,757.27 L1441.80,761.67 L1437.40,757.27 Z" fill="#7030a0"/>
<path d="M1498.10,672.43 L1502.50,676.83 L1498.10,681.23 L1493.70,676.83 Z" fill="#7030a0"/>
<path d="M1610.70,573.34 L1615.10,577.74 L1610.70,582.14 L1606.30,577.74 Z" fill="#7030a0"/>
<path d="M1723.30,617.64 L1727.70,622.04 L1723.30,626.44 L1718.90,622.04 Z" fill="#7030a0"/>
<path d="M1835.90,700.80 L1840.30,705.20 L1835.90,709.60 L1831.50,705.20 Z" fill="#7030a0"/>
<polyline points="1385.50,742.51 1441.80,630.20 1498.10,610.38 1610.70,632.92 1723.30,649.63 1835.90,681.89" fill="none" stroke="#00b050" stroke-width="1.6" stroke-linejoin="round"/>
<rect x="1381.20" y="738.21" width="8.60" height="8.60" fill="#00b050"/>
<rect x="1437.50" y="625.90" width="8.60" height="8.60" fill="#00b050"/>
<rect x="1493.80" y="606.08" width="8.60" height="8.60" fill="#00b050"/>
<rect x="1606.40" y="628.62" width="8.60" height="8.60" fill="#00b050"/>
<rect x="1719.00" y="645.33" width="8.60" height="8.60" fill="#00b050"/>
<rect x="1831.60" y="677.59" width="8.60" height="8.60" fill="#00b050"/>
<polyline points="1385.50,772.82 1441.80,705.98 1498.10,606.11 1610.70,617.77 1723.30,605.33 1835.90,636.42" fill="none" stroke="#c00000" stroke-width="1.6" stroke-linejoin="round"/>
<path d="M1385.50,768.32 L1390.00,776.42 L1381.00,776.42 Z" fill="#c00000"/>
<path d="M1441.80,701.48 L1446.30,709.58 L1437.30,709.58 Z" fill="#c00000"/>
<path d="M1498.10,601.61 L1502.60,609.71 L1493.60,609.71 Z" fill="#c00000"/>
<path d="M1610.70,613.27 L1615.20,621.37 L1606.20,621.37 Z" fill="#c00000"/>
<path d="M1723.30,600.83 L1727.80,608.93 L1718.80,608.93 Z" fill="#c00000"/>
<path d="M1835.90,631.92 L1840.40,640.02 L1831.40,640.02 Z" fill="#c00000"/>
<polyline points="1385.50,759.61 1441.80,719.97 1498.10,700.93 1610.70,679.55 1723.30,594.84 1835.90,619.71" fill="none" stroke="#ed7d31" stroke-width="1.6" stroke-linejoin="round"/>
<rect x="1381.20" y="755.31" width="8.60" height="8.60" fill="#ed7d31"/>
<rect x="1437.50" y="715.67" width="8.60" height="8.60" fill="#ed7d31"/>
<rect x="1493.80" y="696.63" width="8.60" height="8.60" fill="#ed7d31"/>
<rect x="1606.40" y="675.25" width="8.60" height="8.60" fill="#ed7d31"/>
<rect x="1719.00" y="590.54" width="8.60" height="8.60" fill="#ed7d31"/>
<rect x="1831.60" y="615.41" width="8.60" height="8.60" fill="#ed7d31"/>
<polyline points="1385.50,723.47 1441.80,715.31 1498.10,596.78 1610.70,557.14 1723.30,606.11 1835.90,632.53" fill="none" stroke="#00b0f0" stroke-width="1.6" stroke-linejoin="round"/>
<rect x="1381.20" y="719.17" width="8.60" height="8.60" fill="#00b0f0"/>
<rect x="1437.50" y="711.01" width="8.60" height="8.60" fill="#00b0f0"/>
<rect x="1493.80" y="592.48" width="8.60" height="8.60" fill="#00b0f0"/>
<rect x="1606.40" y="552.85" width="8.60" height="8.60" fill="#00b0f0"/>
<rect x="1719.00" y="601.81" width="8.60" height="8.60" fill="#00b0f0"/>
<rect x="1831.60" y="628.23" width="8.60" height="8.60" fill="#00b0f0"/>
<line x1="1865" y1="703.9" x2="1892" y2="703.9" stroke="#7030a0" stroke-width="1.7"/>
<path d="M1878.50,699.72 L1882.68,703.90 L1878.50,708.08 L1874.32,703.90 Z" fill="#7030a0"/>
<text x="1896" y="710.2" font-family="'Liberation Serif', 'Times New Roman', serif" font-size="18.5" fill="#3a3a3a">7Li</text>
<line x1="1865" y1="733.1" x2="1892" y2="733.1" stroke="#00b050" stroke-width="1.7"/>
<rect x="1874.41" y="729.01" width="8.17" height="8.17" fill="#00b050"/>
<text x="1896" y="739.4" font-family="'Liberation Serif', 'Times New Roman', serif" font-size="18.5" fill="#3a3a3a">115In</text>
<line x1="1865" y1="762.3" x2="1892" y2="762.3" stroke="#c00000" stroke-width="1.7"/>
<path d="M1878.50,758.02 L1882.78,765.72 L1874.22,765.72 Z" fill="#c00000"/>
<text x="1896" y="768.6" font-family="'Liberation Serif', 'Times New Roman', serif" font-size="18.5" fill="#3a3a3a">137Ba</text>
<line x1="1865" y1="791.5" x2="1892" y2="791.5" stroke="#ed7d31" stroke-width="1.7"/>
<rect x="1874.41" y="787.41" width="8.17" height="8.17" fill="#ed7d31"/>
<text x="1896" y="797.8" font-family="'Liberation Serif', 'Times New Roman', serif" font-size="18.5" fill="#3a3a3a">140Ce</text>
<line x1="1865" y1="820.7" x2="1892" y2="820.7" stroke="#00b0f0" stroke-width="1.7"/>
<rect x="1874.41" y="816.62" width="8.17" height="8.17" fill="#00b0f0"/>
<text x="1896" y="827.0" font-family="'Liberation Serif', 'Times New Roman', serif" font-size="18.5" fill="#3a3a3a">238U</text>
<text x="1369" y="922.6" text-anchor="end" font-family="'Liberation Serif', 'Times New Roman', serif" font-size="18" fill="#3a3a3a">0.2</text>
<text x="1369" y="844.9" text-anchor="end" font-family="'Liberation Serif', 'Times New Roman', serif" font-size="18" fill="#3a3a3a">0.4</text>
<text x="1369" y="767.2" text-anchor="end" font-family="'Liberation Serif', 'Times New Roman', serif" font-size="18" fill="#3a3a3a">0.6</text>
<text x="1369" y="689.4" text-anchor="end" font-family="'Liberation Serif', 'Times New Roman', serif" font-size="18" fill="#3a3a3a">0.8</text>
<text x="1369" y="611.7" text-anchor="end" font-family="'Liberation Serif', 'Times New Roman', serif" font-size="18" fill="#3a3a3a">1</text>
<text x="1369" y="534.0" text-anchor="end" font-family="'Liberation Serif', 'Times New Roman', serif" font-size="18" fill="#3a3a3a">1.2</text>
<text x="1385.5" y="943.5" text-anchor="middle" font-family="'Liberation Serif', 'Times New Roman', serif" font-size="18" fill="#3a3a3a">-100</text>
<text x="1498.1" y="943.5" text-anchor="middle" font-family="'Liberation Serif', 'Times New Roman', serif" font-size="18" fill="#3a3a3a">-200</text>
<text x="1610.7" y="943.5" text-anchor="middle" font-family="'Liberation Serif', 'Times New Roman', serif" font-size="18" fill="#3a3a3a">-300</text>
<text x="1723.3" y="943.5" text-anchor="middle" font-family="'Liberation Serif', 'Times New Roman', serif" font-size="18" fill="#3a3a3a">-400</text>
<text x="1835.9" y="943.5" text-anchor="middle" font-family="'Liberation Serif', 'Times New Roman', serif" font-size="18" fill="#3a3a3a">-500</text>
<text x="1628.6" y="979.4" text-anchor="middle" font-family="'Liberation Serif', 'Times New Roman', serif" font-size="18.35" font-weight="bold" fill="#1a1a1a">Potential at the extractor lens, V</text>
<g transform="translate(1331.0,769.3) rotate(-90)"><text x="-0.6" y="0" font-size="19" font-family="'Liberation Serif', 'Times New Roman', serif" font-weight="bold" font-style="italic" fill="#111">I</text><text x="7.0" y="3.8" font-size="12.5" font-family="'Liberation Serif', 'Times New Roman', serif" font-weight="bold" font-style="italic" fill="#111">i</text><text x="14.9" y="0" font-size="19" font-family="'Liberation Serif', 'Times New Roman', serif" font-weight="bold" font-style="italic" fill="#111">I</text><text x="22.2" y="3.8" font-size="12.5" font-family="'Liberation Serif', 'Times New Roman', serif" font-weight="bold" font-style="italic" fill="#111">0</text></g>
<text x="716.5" y="1085.0" text-anchor="middle" font-family="'Liberation Serif', 'Times New Roman', serif" font-size="42.8" fill="#152d6c" >Microwave digestion</text>
<g mask="url(#rm1)"><g transform="translate(0,2171.0) scale(1,-1)"><text x="716.5" y="1085.0" text-anchor="middle" font-family="'Liberation Serif', 'Times New Roman', serif" font-size="42.8" fill="#152d6c" >Microwave digestion</text></g></g>
<text x="1285.8" y="1050.6" text-anchor="start" font-family="'Liberation Serif', 'Times New Roman', serif" font-size="42.8" fill="#152d6c" ><tspan x="1285.8">ICP-MS</tspan><tspan x="1442.0" font-family="Carlito, 'Liberation Sans', sans-serif" font-size="40.7" letter-spacing="1.6">analysis</tspan><tspan x="1588.6">the waste of Sm-Co</tspan></text>
<g mask="url(#rm2)"><g transform="translate(0,2102.2) scale(1,-1)"><text x="1285.8" y="1050.6" text-anchor="start" font-family="'Liberation Serif', 'Times New Roman', serif" font-size="42.8" fill="#152d6c" ><tspan x="1285.8">ICP-MS</tspan><tspan x="1442.0" font-family="Carlito, 'Liberation Sans', sans-serif" font-size="40.7" letter-spacing="1.6">analysis</tspan><tspan x="1588.6">the waste of Sm-Co</tspan></text></g></g>
<text x="1605.7" y="1102.8" text-anchor="middle" font-family="'Liberation Serif', 'Times New Roman', serif" font-size="43" fill="#152d6c" >magnets</text>
<g mask="url(#rm3)"><g transform="translate(0,2206.6) scale(1,-1)"><text x="1605.7" y="1102.8" text-anchor="middle" font-family="'Liberation Serif', 'Times New Roman', serif" font-size="43" fill="#152d6c" >magnets</text></g></g>
<path d="M981,1062.3 L1207.5,1062.3 L1207.5,1054.2 L1224.3,1070.7 L1207.5,1087.9 L1207.5,1079.1 L981,1079.1 L989.4,1070.7 Z" fill="#8eaadc" stroke="#2b3550" stroke-width="1.6" stroke-linejoin="miter"/>
</svg>
</body></html>
